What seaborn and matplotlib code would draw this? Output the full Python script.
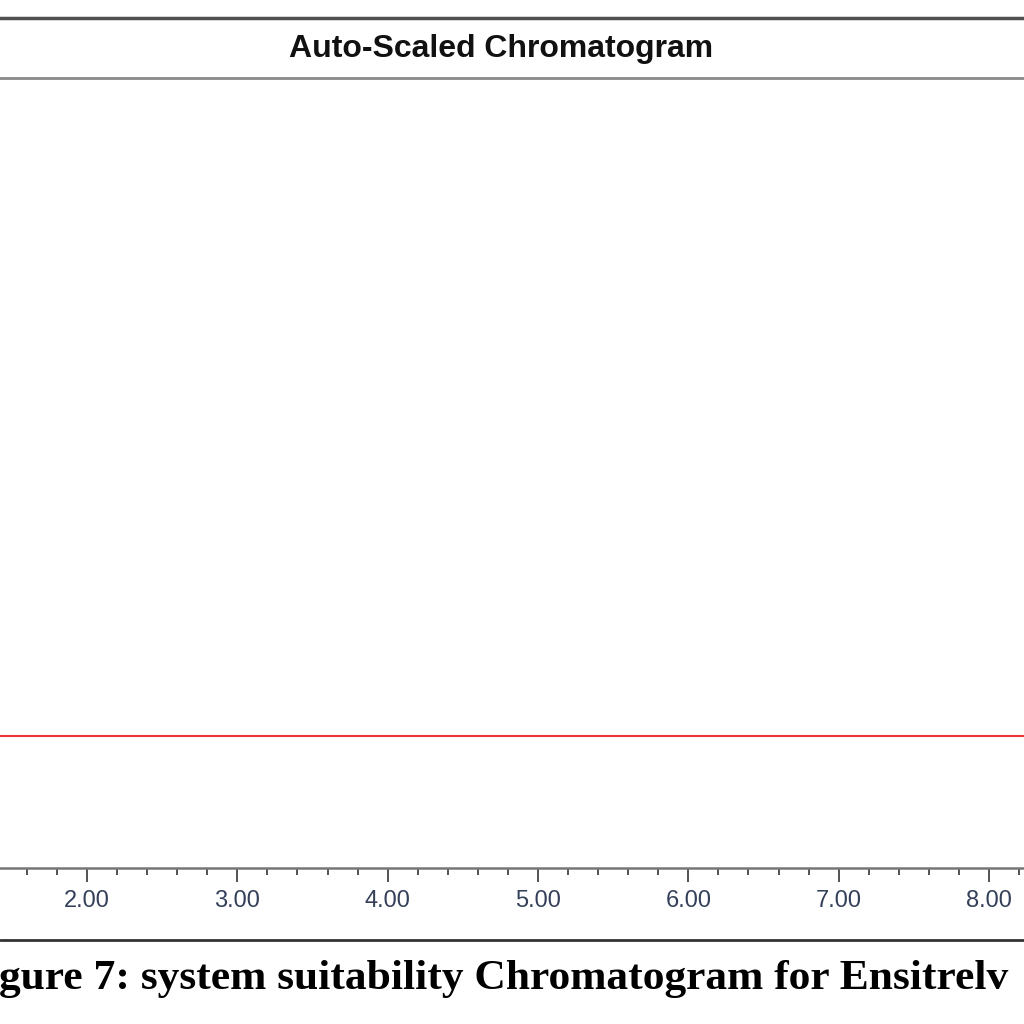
import matplotlib
matplotlib.use("Agg")
import matplotlib.pyplot as plt
import seaborn as sns
import pandas as pd
from matplotlib.ticker import MultipleLocator, FormatStrFormatter
from matplotlib.lines import Line2D

# retention time (min) and detector response (AU), flat baseline
time_min = [1.40, 1.80, 2.40, 3.00, 3.60, 4.20, 4.55, 4.60, 5.00, 6.00, 7.00, 8.00, 8.25]
response_au = [0.0, 0.0, 0.0, 0.0, 0.0, 0.0, 0.0, 0.0, 0.0, 0.0, 0.0, 0.0, 0.0]

title_text = "Auto-Scaled Chromatogram"
caption_text = "gure 7: system suitability Chromatogram for Ensitrelv"

df = pd.DataFrame({"time": time_min, "au": response_au})

sns.set_theme(style="white")
plt.rcParams["font.family"] = ["Liberation Sans", "DejaVu Sans"]

fig = plt.figure(figsize=(10.24, 10.24), dpi=100)

# main chromatogram area
ax = fig.add_axes([0.0, 1 - 868 / 1024, 1.0, (868 - 78) / 1024])
sns.lineplot(data=df, x="time", y="au", ax=ax, color="#ee3535", linewidth=1.5)
ax.set_xlim(1.421, 8.233)
ax.set_ylim(-0.02, 0.1)
ax.set_xlabel("")
ax.set_ylabel("")
ax.set_yticks([])
ax.xaxis.set_major_locator(MultipleLocator(1.0))
ax.xaxis.set_minor_locator(MultipleLocator(0.2))
ax.xaxis.set_major_formatter(FormatStrFormatter("%.2f"))
ax.tick_params(axis="x", which="major", bottom=True, length=10, width=1.3,
               color="#444444", labelsize=17, labelcolor="#34405a", pad=6)
ax.tick_params(axis="x", which="minor", bottom=True, length=5, width=1.3,
               color="#444444")
for side in ["left", "right", "top"]:
    ax.spines[side].set_visible(False)
ax.spines["bottom"].set_color("#777777")
ax.spines["bottom"].set_linewidth(1.8)

# title box
tax = fig.add_axes([0.0, 1 - 78 / 1024, 1.0, 60 / 1024])
tax.set_xticks([])
tax.set_yticks([])
for side in ["left", "right"]:
    tax.spines[side].set_visible(False)
tax.spines["top"].set_color("#505050")
tax.spines["top"].set_linewidth(2.5)
tax.spines["bottom"].set_color("#8a8a8a")
tax.spines["bottom"].set_linewidth(2.0)
tax.text(0.489, 0.48, title_text, ha="center", va="center",
         fontsize=23, fontweight="bold", color="#111111", transform=tax.transAxes)

# bottom rule and caption
fig.add_artist(Line2D([0, 1], [1 - 940 / 1024] * 2, color="#333333", linewidth=2.0,
                      transform=fig.transFigure))
fig.text(-0.001, 1 - 979 / 1024, caption_text, ha="left", va="center",
         fontsize=31.3, fontweight="bold", family=["Liberation Serif", "DejaVu Serif"],
         color="#000000")

fig.savefig("out.png", dpi=100, facecolor="white")
plt.close(fig)
